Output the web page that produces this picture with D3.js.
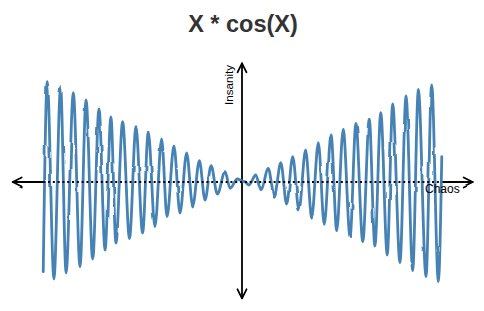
<!DOCTYPE html>
<html>
<head>
<meta charset="utf-8">
<script src="https://cdn.jsdelivr.net/npm/d3@7/dist/d3.min.js"></script>
<style>
  html, body { margin: 0; padding: 0; background: #fff; }
  svg { display: block; }
  text { font-family: "Liberation Sans", Arial, Helvetica, sans-serif; }
</style>
</head>
<body>
<svg id="chart" width="484" height="311"></svg>
<script>
// ---- data (successive peaks / troughs of X * cos(X)) ----
const xVals = [-98.4, -96.4, -93.1, -89.8, -87.1, -83.5, -80.2, -77.2, -73.9, -70.8,
  -67.8, -64.9, -62.4, -59.1, -55.7, -52.5, -49.2, -46.4, -43.1, -39.8,
  -37.1, -33.7, -30.7, -27.4, -24.4, -21.1, -18.3, -15.3, -12.2, -8.4,
  -5.9, -2.3, -0.1, 1.5, 3.5, 6.8, 9.4, 13.0, 16.0, 19.2,
  22.1, 25.1, 28.2, 31.5, 34.5, 37.8, 40.7, 44.1, 46.9, 50.1,
  53.5, 56.4, 59.8, 63.0, 65.8, 68.7, 71.9, 74.6, 78.2, 81.2,
  84.5, 87.3, 91.1, 93.9, 97.2, 98.9];
const yVals = [-89.7, 100.3, -97, 95.3, -91, 89.3, -84.7, 82, -77, 74,
  -68, 65, -61, 60.3, -56.5, 55.3, -51, 50, -44.7, 43,
  -34.7, 36, -31, 29, -24, 21.3, -18, 16.3, -12, 10.3,
  -6.3, 3, 1, 0.3, -3, 7, -8.7, 13.7, -15.3, 19.3,
  -22, 25.3, -28, 32, -35.3, 39.3, -42.3, 47, -48.7, 52.7,
  -54.7, 58.7, -59.7, 62, -64, 69.3, -73, 78, -80.7, 86,
  -88.7, 92.7, -94.7, 98, -99.7, 25.3];
const xAxisExtent = [-113.5, 114.2];
const yAxisExtent = [-116.3, 118.7];
const titleText = "X * cos(X)";
const xLabel = "Chaos";
const yLabel = "Insanity";

// ---- drawing ----
const svg = d3.select("#chart");
const x = d3.scaleLinear().domain([-100, 100]).range([40, 444]);
const y = d3.scaleLinear().domain([-120, 120]).range([302, 62]);

const defs = svg.append("defs");
const f = defs.append("filter").attr("id", "wob")
  .attr("filterUnits", "userSpaceOnUse")
  .attr("x", 0).attr("y", 0).attr("width", 484).attr("height", 311);
f.append("feTurbulence").attr("type", "fractalNoise").attr("baseFrequency", 0.05)
  .attr("numOctaves", 1).attr("seed", 4).attr("result", "n");
f.append("feDisplacementMap").attr("in", "SourceGraphic").attr("in2", "n")
  .attr("scale", 2.6).attr("xChannelSelector", "R").attr("yChannelSelector", "G");

const pts = xVals.map((v, i) => [v, yVals[i]]);
const dataExt = d3.extent(xVals);

// title
svg.append("text").attr("x", 243).attr("y", 31.5)
  .attr("text-anchor", "middle").attr("font-size", 23.5).attr("font-weight", "bold")
  .attr("fill", "#333").text(titleText);

const axisG = svg.append("g").attr("filter", "url(#wob)")
  .attr("stroke", "#000").attr("fill", "none").attr("stroke-width", 1.8)
  .attr("stroke-linecap", "round").attr("stroke-linejoin", "round");

// x axis solid parts
axisG.append("line").attr("x1", x(xAxisExtent[0])).attr("x2", x(dataExt[0]))
  .attr("y1", y(0)).attr("y2", y(0));
axisG.append("line").attr("x1", x(dataExt[1])).attr("x2", x(xAxisExtent[1]))
  .attr("y1", y(0)).attr("y2", y(0));
// y axis
axisG.append("line").attr("x1", x(0)).attr("x2", x(0))
  .attr("y1", y(yAxisExtent[0])).attr("y2", y(yAxisExtent[1]));

// arrowheads
function chevron(tx, ty, dx, dy) {
  const L = 9, W = 4.5;
  const bx = tx - dx * L, by = ty - dy * L;
  const p = d3.path();
  p.moveTo(bx - dy * W, by + dx * W);
  p.lineTo(tx, ty);
  p.lineTo(bx + dy * W, by - dx * W);
  return p.toString();
}
axisG.append("path").attr("d", chevron(x(xAxisExtent[0]), y(0), -1, 0));
axisG.append("path").attr("d", chevron(x(xAxisExtent[1]), y(0), 1, 0));
axisG.append("path").attr("d", chevron(x(0), y(yAxisExtent[1]), 0, -1));
axisG.append("path").attr("d", chevron(x(0), y(yAxisExtent[0]), 0, 1));

// data line
const line = d3.line().x(d => x(d[0])).y(d => y(d[1])).curve(d3.curveMonotoneX);
svg.append("path").datum(pts).attr("d", line)
  .attr("fill", "none").attr("stroke", "steelblue").attr("stroke-width", 2.8)
  .attr("stroke-linejoin", "round").attr("stroke-linecap", "round")
  .attr("filter", "url(#wob)");

// dotted zero line over the data range
svg.append("line").attr("x1", x(dataExt[0])).attr("x2", x(dataExt[1]))
  .attr("y1", y(0)).attr("y2", y(0))
  .attr("stroke", "#000").attr("stroke-width", 2).attr("stroke-dasharray", "2,2.8");

// labels
svg.append("text").attr("x", 425).attr("y", 193.3)
  .attr("font-size", 12).attr("fill", "#000").text(xLabel);
svg.append("text").attr("transform", "translate(232.5,65) rotate(-90)")
  .attr("text-anchor", "end").attr("font-size", 11.6).attr("fill", "#000").text(yLabel);
</script>
</body>
</html>
